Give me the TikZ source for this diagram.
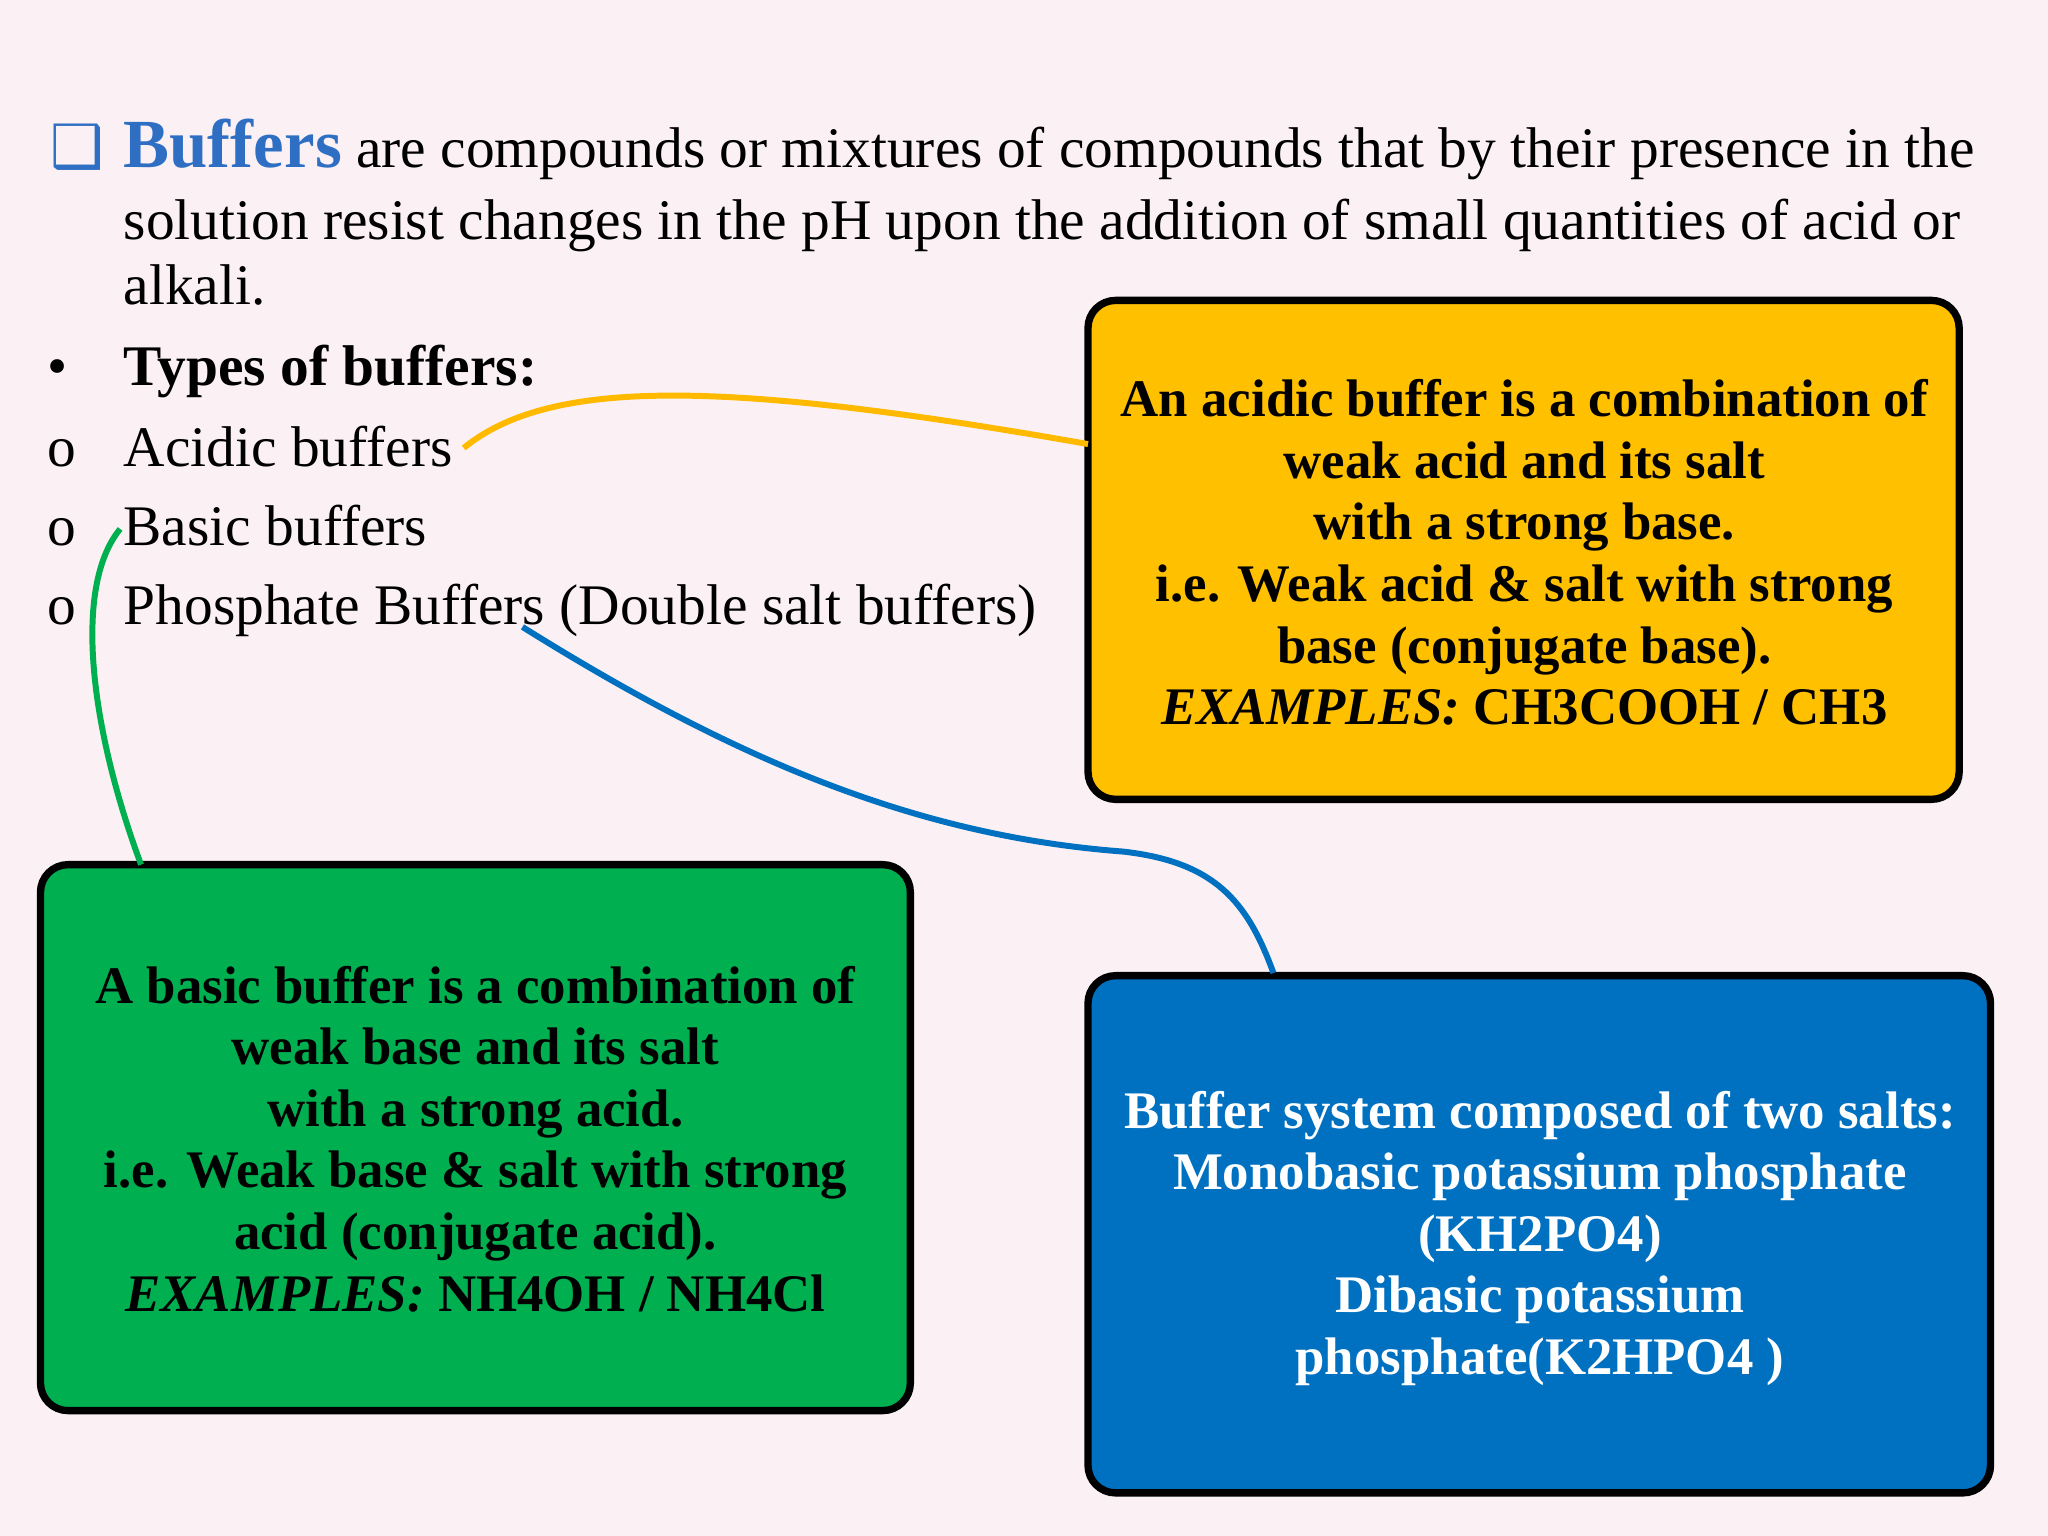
\documentclass[tikz,border=0pt]{standalone}
\usepackage{fontspec}
\setmainfont{Liberation Serif}
\newfontfamily\symfont{DejaVu Sans}
\definecolor{bg}{HTML}{FBF1F4}
\definecolor{ybox}{HTML}{FFC000}
\definecolor{gbox}{HTML}{00B050}
\definecolor{bbox}{HTML}{0070C0}
\definecolor{tblue}{HTML}{2E6FC4}
\begin{document}
\begin{tikzpicture}[x=0.01cm,y=-0.01cm,
  body/.style={anchor=base west,inner sep=0,font=\fontsize{12.5}{15}\selectfont},
  boxx/.style={draw=black,line width=1.6pt,rounded corners=6pt},
  btext/.style={align=center,font=\fontsize{11.5}{13.4}\selectfont\bfseries,inner sep=0},
  conn/.style={line width=1.3pt}]
\fill[bg] (0,0) rectangle (1568,1176);
\useasboundingbox (0,0) rectangle (1568,1176);
\node[body,text=tblue] (q) at (38,128) {\symfont\fontsize{13}{15}\selectfont ❑};
\node[body] (l1) at (94,128) {{\color{tblue}\bfseries\fontsize{15}{15}\selectfont Buffers} are compounds or mixtures of compounds that by their presence in the};
\node[body] (l2) at (94,183) {solution resist changes in the pH upon the addition of small quantities of acid or};
\node[body] (l3) at (94,233) {alkali.};
\node[body] (b0) at (36,295) {•};
\node[body] (t) at (94,295) {\bfseries Types of buffers:};
\node[body] (o1) at (36,357) {o};
\node[body] (a) at (94,357) {Acidic buffers};
\node[body] (o2) at (36,418) {o};
\node[body] (b) at (94,418) {Basic buffers};
\node[body] (o3) at (36,478) {o};
\node[body] (p) at (94,478) {Phosphate Buffers (Double salt buffers)};

\draw[boxx,fill=ybox] (833,230) rectangle (1500,612);
\coordinate (yb) at (833,340);
\node[btext] (yt) at (1167,423) {An acidic buffer is a combination of\\weak acid and its salt\\with a strong base.\\i.e. Weak acid \& salt with strong\\base (conjugate base).\\{\itshape EXAMPLES:} CH3COOH / CH3};
\draw[boxx,fill=gbox] (31,662) rectangle (697,1080);
\coordinate (gb) at (108,662);
\node[btext] (gt) at (364,872) {A basic buffer is a combination of\\weak base and its salt\\with a strong acid.\\i.e. Weak base \& salt with strong\\acid (conjugate acid).\\{\itshape EXAMPLES:} NH4OH / NH4Cl};
\draw[boxx,fill=bbox] (833,747) rectangle (1524,1143);
\coordinate (bb) at (975,745);
\node[btext,text=white] (bt) at (1179,948) {Buffer system composed of two salts:\\Monobasic potassium phosphate\\(KH2PO4)\\Dibasic potassium\\phosphate(K2HPO4 )};

\coordinate (ya) at (355,343);
\coordinate (gs) at (92,405);
\coordinate (bs) at (400,480);
\draw[conn,ybox!90!orange] (ya) .. controls (420,290) and (550,290) .. (yb);
\draw[conn,gbox] (gs) .. controls (55,450) and (70,560) .. (gb);
\draw[conn,bbox] (bs) .. controls (560,580) and (700,640) .. (860,652) .. controls (930,660) and (955,690) .. (bb);
\end{tikzpicture}
\end{document}
